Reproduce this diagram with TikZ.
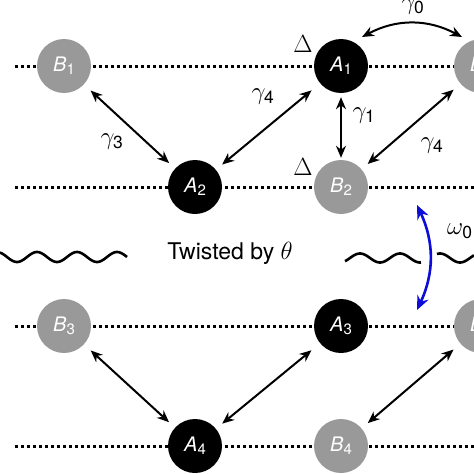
\documentclass[tikz,border=0pt]{standalone}
\usepackage{amsmath}
\usepackage{fontspec}
\setmainfont{TeX Gyre Heros}
\usetikzlibrary{arrows.meta}
\definecolor{bgray}{gray}{0.6}
\definecolor{arrblue}{rgb}{0.05,0.05,0.85}
\tikzset{
  site/.style={circle,minimum size=54pt,inner sep=0pt,text=white,
    font=\fontsize{20}{22}\selectfont},
  asite/.style={site,fill=black},
  bsite/.style={site,fill=bgray},
  chain/.style={line width=3pt,dash pattern=on 3pt off 3pt},
  coup/.style={line width=2pt,{Stealth[length=12pt,width=10pt]}-{Stealth[length=12pt,width=10pt]}},
  bluearr/.style={line width=2.6pt,draw=arrblue,{Stealth[length=14pt,width=12pt]}-{Stealth[length=14pt,width=12pt]}},
  wave/.style={line width=2.6pt},
  lab/.style={font=\fontsize{25}{27}\selectfont,inner sep=0pt},
  dlab/.style={font=\fontsize{23}{25}\selectfont,inner sep=0pt}
}
\newcommand{\sitelab}[2]{\textit{#1}\raisebox{-0.3ex}{\fontsize{15}{15}\selectfont #2}}
\newcommand{\sdig}[1]{\text{#1}}
\begin{document}
\begin{tikzpicture}[x=1pt,y=1pt]
\clip (0,0) rectangle (474,-474);
\useasboundingbox (0,0) rectangle (474,-474);
% chains
\coordinate (l1) at (15,-66);  \coordinate (r1) at (480,-66);
\coordinate (l2) at (15,-187); \coordinate (r2) at (480,-187);
\coordinate (l3) at (15,-326); \coordinate (r3) at (480,-326);
\coordinate (l4) at (15,-446); \coordinate (r4) at (480,-446);
\draw[chain] (l1) -- (r1);
\draw[chain] (l2) -- (r2);
\draw[chain] (l3) -- (r3);
\draw[chain] (l4) -- (r4);
% sites
\node[bsite] (B1) at (64,-66) {\sitelab{B}{1}};
\node[asite] (A1) at (341,-66) {\sitelab{A}{1}};
\node[bsite] (B1r) at (481,-66) {\sitelab{B}{1}};
\node[asite] (A2) at (195,-187) {\sitelab{A}{2}};
\node[bsite] (B2) at (341,-187) {\sitelab{B}{2}};
\node[bsite] (B3) at (64,-326) {\sitelab{B}{3}};
\node[asite] (A3) at (341,-326) {\sitelab{A}{3}};
\node[bsite] (B3r) at (481,-326) {\sitelab{B}{3}};
\node[asite] (A4) at (195,-446) {\sitelab{A}{4}};
\node[bsite] (B4) at (341,-446) {\sitelab{B}{4}};
% couplings
\draw[coup,shorten <=9pt,shorten >=8pt] (B1) -- (A2);
\draw[coup,shorten <=8pt,shorten >=11pt] (A2) -- (A1);
\draw[coup,shorten <=4pt,shorten >=2pt] (A1) -- (B2);
\draw[coup,shorten <=8pt,shorten >=9pt] (B2) -- (B1r);
\draw[coup,shorten <=9pt,shorten >=8pt] (B3) -- (A4);
\draw[coup,shorten <=8pt,shorten >=11pt] (A4) -- (A3);
\draw[coup,shorten <=8pt,shorten >=9pt] (B4) -- (B3r);
\coordinate (g0a) at (362,-37);
\coordinate (g0b) at (462,-37);
\draw[coup] (g0a) to[bend left=28] (g0b);
% labels
\node[lab] (lg0) at (413,-7) {$\gamma_{\sdig{0}}$};
\node[lab] (lg4a) at (263,-97) {$\gamma_{\sdig{4}}$};
\node[lab] (lg3) at (112,-142) {$\gamma_{\sdig{3}}$};
\node[lab] (lg1) at (364,-116) {$\gamma_{\sdig{1}}$};
\node[lab] (lg4b) at (432,-146) {$\gamma_{\sdig{4}}$};
\node[dlab] (d1) at (303,-44) {$\Delta$};
\node[dlab] (d2) at (303,-167) {$\Delta$};
% twist
\draw[wave] plot[domain=0:127,samples=120] (\x,{-(257+5*sin(9*(\x-7)))});
\draw[wave] plot[domain=345:421,samples=80] (\x,{-(258+4.5*sin(9*(\x-370)))});
\draw[wave] plot[domain=437:474,samples=50] (\x,{-(258+4.5*sin(9*(\x-370)))});
\node[font=\fontsize{23}{26}\selectfont,anchor=base,inner sep=0pt] (tw) at (230,-259) {Twisted by $\theta$};
\coordinate (wt) at (417,-205);
\coordinate (wb) at (417,-310);
\draw[bluearr] (wt) to[bend left=25] (wb);
\node[lab,anchor=west] (om) at (447,-231) {$\omega_{\sdig{0}}$};
\end{tikzpicture}
\end{document}
